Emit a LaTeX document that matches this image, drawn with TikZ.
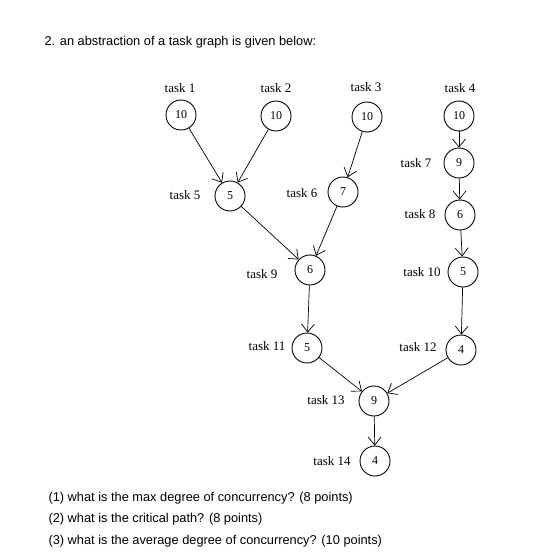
\documentclass[tikz,border=0pt]{standalone}
\usepackage{fontspec}
\setmainfont{Liberation Serif}
\newfontfamily\qfont{Liberation Sans}
\usetikzlibrary{arrows.meta}
\begin{document}
\begin{tikzpicture}[x=1pt,y=-1pt,
  task/.style={circle,draw,line width=0.9pt,minimum size=30pt,inner sep=0pt,font=\fontsize{12}{12}\selectfont},
  tlabel/.style={font=\fontsize{13}{13}\selectfont},
  qtext/.style={anchor=west,font=\qfont\fontsize{12.8}{12.8}\selectfont},
  edge/.style={draw,line width=0.7pt,-{Straight Barb[length=8pt,width=13pt,line width=0.7pt]}}]
\useasboundingbox (0,0) rectangle (552,559);
\node[qtext] (title) at (41,42) {2. an abstraction of a task graph is given below:};
% nodes
\node[task] (t1) at (181,115) {10};
\node[task] (t2) at (276,116) {10};
\node[task] (t3) at (367,117) {10};
\node[task] (t4) at (459,116) {10};
\node[task] (t7) at (459,163) {9};
\node[task] (t5) at (230,196) {5};
\node[task] (t6) at (343,192) {7};
\node[task] (t8) at (460,215) {6};
\node[task] (t9) at (310,270) {6};
\node[task] (t10) at (463,272) {5};
\node[task] (t11) at (307,348) {5};
\node[task] (t12) at (461,350) {4};
\node[task] (t13) at (374,401) {9};
\node[task] (t14) at (375,461) {4};
% labels
\node[tlabel] (l1) at (180,88) {task 1};
\node[tlabel] (l2) at (276,88) {task 2};
\node[tlabel] (l3) at (366,87) {task 3};
\node[tlabel] (l4) at (460,88) {task 4};
\node[tlabel] (l7) at (416,163) {task 7};
\node[tlabel] (l5) at (185,195) {task 5};
\node[tlabel] (l6) at (302,193) {task 6};
\node[tlabel] (l8) at (420,214) {task 8};
\node[tlabel] (l9) at (262,274) {task 9};
\node[tlabel] (l10) at (422,272) {task 10};
\node[tlabel] (l11) at (267,346) {task 11};
\node[tlabel] (l12) at (418,347) {task 12};
\node[tlabel] (l13) at (326,400) {task 13};
\node[tlabel] (l14) at (332,461) {task 14};
% edges
\draw[edge] (t1) -- (t5);
\draw[edge] (t2) -- (t5);
\draw[edge] (t3) -- (t6);
\draw[edge] (t4) -- (t7);
\draw[edge] (t7) -- (t8);
\draw[edge] (t8) -- (t10);
\draw[edge] (t5) -- (t9);
\draw[edge] (t6) -- (t9);
\draw[edge] (t9) -- (t11);
\draw[edge] (t10) -- (t12);
\draw[edge] (t11) -- (t13);
\draw[edge] (t12) -- (t13);
\draw[edge] (t13) -- (t14);
% questions
\node[qtext] (q1) at (45,498) {(1) what is the max degree of concurrency? (8 points)};
\node[qtext] (q2) at (45,519) {(2) what is the critical path? (8 points)};
\node[qtext] (q3) at (45,541) {(3) what is the average degree of concurrency? (10 points)};
\end{tikzpicture}
\end{document}
